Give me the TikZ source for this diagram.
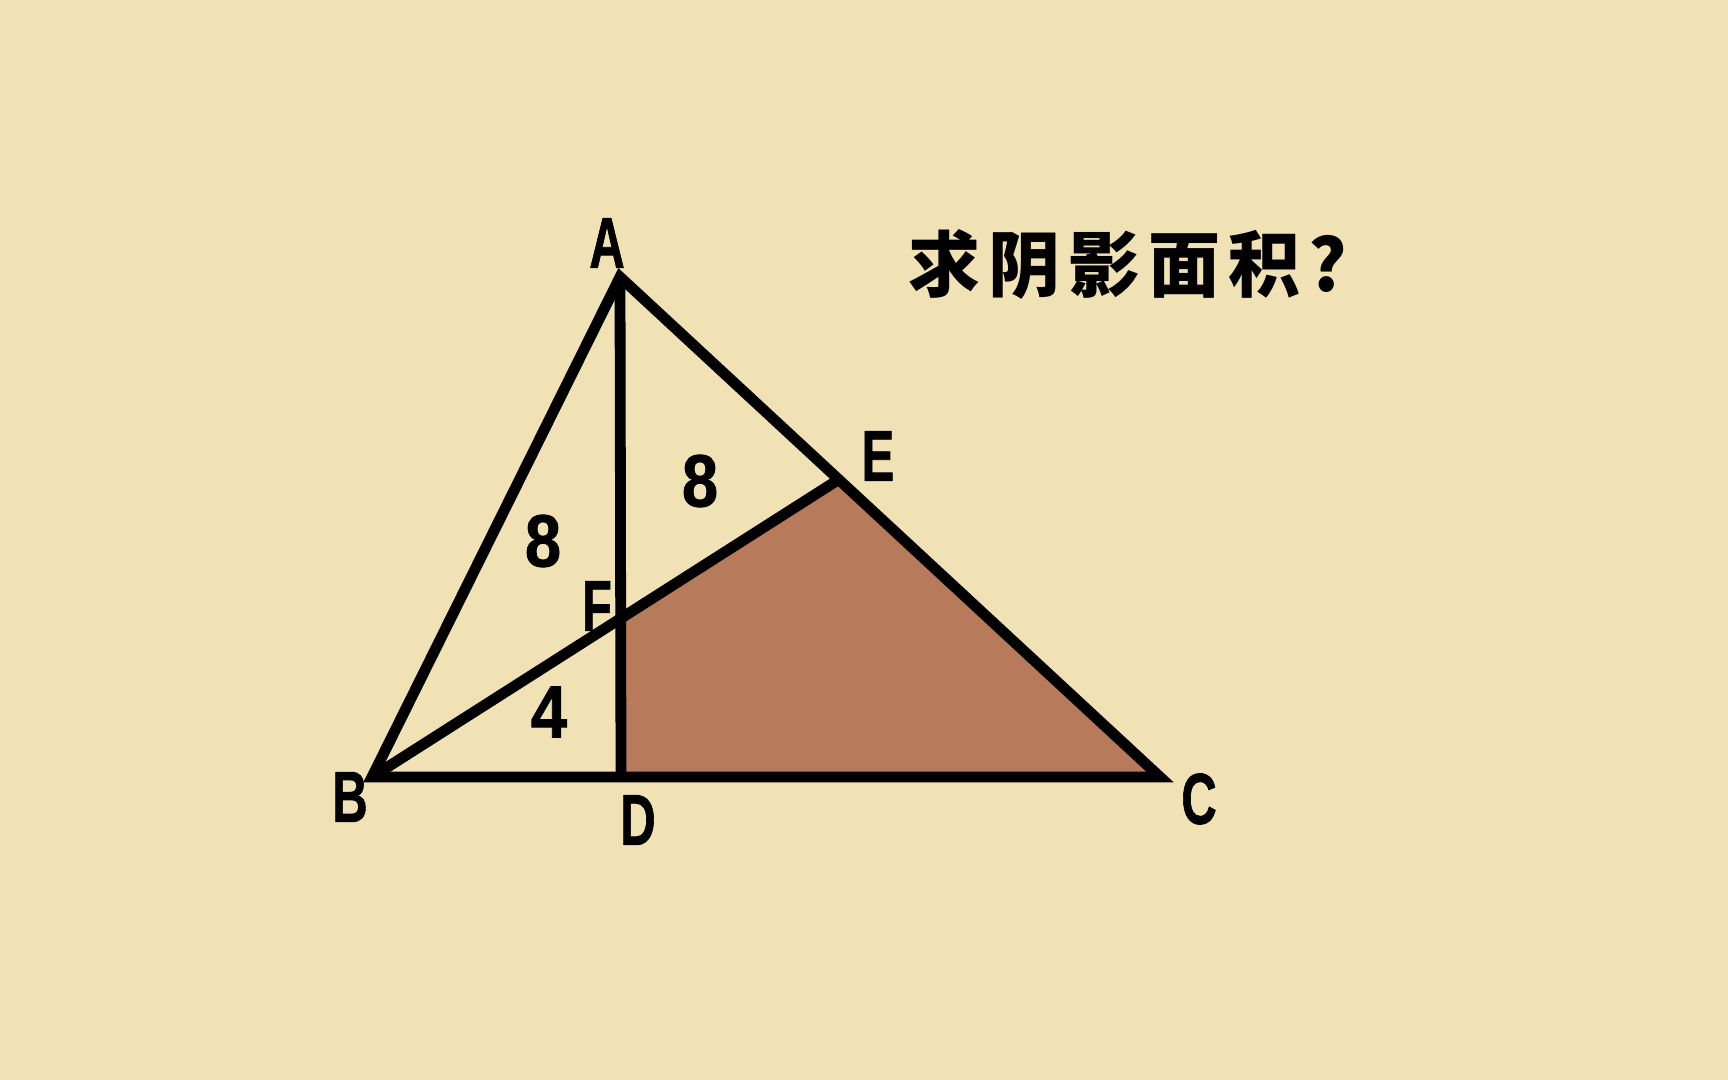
\documentclass[tikz,border=0pt]{standalone}
\usepackage{fontspec}
\usepackage{graphicx}
\usetikzlibrary{calc}
\newfontfamily\cjk{Noto Sans CJK SC}
\newfontfamily\labfont{Liberation Sans}[FakeBold=1.2]
\definecolor{bgcol}{RGB}{241,226,181}
\definecolor{shadecol}{RGB}{183,122,90}
\newcommand{\narrowtext}[2]{\scalebox{#1}[1]{#2}}
\tikzset{
  geo/.style={line width=5.4pt, black, line join=miter},
  ptlabel/.style={inner sep=0pt, font=\labfont\bfseries\fontsize{36pt}{36pt}\selectfont},
  numlabel/.style={inner sep=0pt, font=\labfont\bfseries\fontsize{37pt}{37pt}\selectfont},
  title/.style={inner sep=0pt, font=\cjk\bfseries\fontsize{36pt}{36pt}\selectfont}
}
\begin{document}
\begin{tikzpicture}[x=0.5pt,y=-0.5pt]
\fill[bgcol] (0,0) rectangle (1728,1080);
\useasboundingbox (0,0) rectangle (1728,1080);
% vertices
\coordinate (A) at (620,277);
\coordinate (B) at (372,777);
\coordinate (C) at (1160,777);
\coordinate (D) at (621,777);
\coordinate (E) at ($(A)!0.405!(C)$);
\coordinate (F) at (intersection of A--D and B--E);
% shaded region
\fill[shadecol] (F) -- (D) -- (C) -- (E) -- cycle;
% lines
\draw[geo] (A) -- (B) -- (C) -- cycle;
\draw[geo] (A) -- (D);
\draw[geo] (B) -- (E);
% point labels
\node[ptlabel] (lA) at (607,243) {\narrowtext{0.68}{A}};
\node[ptlabel] (lB) at (350,797) {\narrowtext{0.68}{B}};
\node[ptlabel] (lC) at (1199,799) {\narrowtext{0.68}{C}};
\node[ptlabel] (lD) at (638,820) {\narrowtext{0.68}{D}};
\node[ptlabel] (lE) at (878,456) {\narrowtext{0.68}{E}};
\node[ptlabel] (lF) at (597,606) {\narrowtext{0.68}{F}};
% area labels
\node[numlabel] (n1) at (543,541) {\narrowtext{0.88}{8}};
\node[numlabel] (n2) at (700,481) {\narrowtext{0.88}{8}};
\node[numlabel] (n3) at (549,712) {\narrowtext{0.88}{4}};
% title
\node[title] (q) at (1128,264) {求\hspace{4pt}阴\hspace{4pt}影\hspace{4pt}面\hspace{4pt}积\hspace{4pt}?};
\end{tikzpicture}
\end{document}
